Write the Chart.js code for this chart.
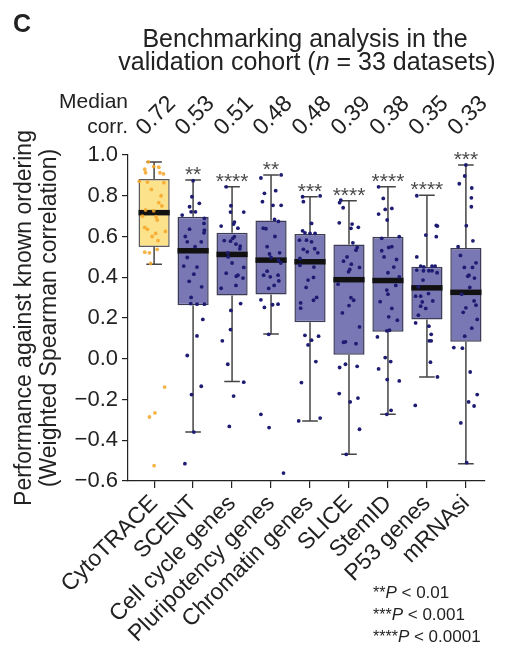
<!DOCTYPE html>
<html>
<head>
<meta charset="utf-8">
<title>Benchmarking analysis in the validation cohort</title>
<script src="https://cdn.jsdelivr.net/npm/chart.js@4.4.1/dist/chart.umd.min.js"></script>
<style>
  html, body { margin: 0; padding: 0; background: #fff; }
  canvas { display: block; }
</style>
</head>
<body>
<canvas id="chart" width="527" height="664"></canvas>
<script>
// ---------- data ----------
const categories = ['CytoTRACE', 'SCENT', 'Cell cycle genes', 'Pluripotency genes', 'Chromatin genes',
  'SLICE', 'StemID', 'P53 genes', 'mRNAsi'];
const medianCorr = ['0.72', '0.53', '0.51', '0.48', '0.48', '0.39', '0.38', '0.35', '0.33'];
const significance = ['', '**', '****', '**', '***', '****', '****', '****', '***'];

// box statistics
const whiskerLow  = [0.464, -0.360, -0.112, 0.122, -0.305, -0.469, -0.273, -0.089, -0.515];
const q1          = [0.549, 0.263, 0.310, 0.315, 0.179, 0.020, 0.132, 0.193, 0.083];
const median      = [0.717, 0.530, 0.512, 0.484, 0.476, 0.388, 0.384, 0.348, 0.326];
const q3          = [0.882, 0.697, 0.618, 0.679, 0.612, 0.561, 0.599, 0.451, 0.543];
const whiskerHigh = [0.966, 0.877, 0.844, 0.902, 0.795, 0.776, 0.844, 0.803, 0.951];

// datasets per method: [jitter, correlation]
const ptsCytoTRACE = [[-0.15,0.966],[-0.24,0.930],[-0.22,0.913],[-0.01,0.943],[0.12,0.940],[0.15,0.913],
  [0.24,0.907],[0.25,0.864],[-0.38,0.871],[-0.17,0.867],[-0.07,0.831],[0.12,0.766],[-0.22,0.730],
  [-0.01,0.726],[0.05,0.697],[0.08,0.681],[-0.24,0.645],[-0.17,0.635],[0.29,0.625],[0.04,0.615],
  [0.08,0.537],[-0.24,0.523],[-0.12,0.520],[-0.09,0.468],[0.27,-0.139],[0.02,-0.266],[-0.12,-0.286],
  [0.0,-0.525],[0.18,0.80],[-0.30,0.70],[0.10,0.58],[0.20,0.75],[-0.05,0.60]];
const ptsSCENT = [[0.0,0.874],[-0.03,0.795],[0.16,0.763],[-0.09,0.746],[-0.05,0.721],[0.06,0.721],
  [-0.28,0.705],[0.29,0.689],[0.28,0.664],[-0.09,0.636],[0.29,0.631],[0.28,0.618],[-0.15,0.574],
  [0.21,0.574],[-0.15,0.497],[-0.24,0.455],[0.02,0.415],[0.22,0.353],[-0.05,0.301],[-0.06,0.271],
  [0.29,0.268],[0.10,0.268],[0.25,0.193],[0.10,0.112],[-0.15,0.016],[0.21,-0.135],[-0.04,-0.176],
  [0.02,-0.360],[-0.21,-0.515],[-0.20,0.60],[0.10,0.45],[-0.10,0.38],[0.05,0.55]];
const ptsCellCycle = [[-0.15,0.844],[-0.03,0.751],[-0.04,0.720],[0.30,0.720],[0.06,0.671],[0.04,0.661],
  [-0.28,0.651],[0.15,0.641],[0.06,0.599],[0.02,0.591],[-0.04,0.577],[0.10,0.563],[0.21,0.553],
  [-0.11,0.520],[-0.10,0.500],[0.30,0.448],[0.15,0.410],[0.11,0.405],[0.28,0.396],[-0.28,0.346],
  [0.22,0.271],[-0.03,0.237],[-0.04,0.143],[-0.25,0.088],[-0.11,-0.027],[0.30,-0.115],[0.04,-0.183],
  [-0.07,-0.332],[-0.20,0.58],[0.0,0.47],[0.10,0.36],[-0.15,0.42],[0.20,0.54]];
const ptsPluripotency = [[0.26,0.902],[-0.26,0.887],[0.12,0.825],[-0.17,0.812],[-0.22,0.771],[0.05,0.753],
  [0.26,0.753],[0.09,0.684],[0.19,0.674],[-0.20,0.641],[-0.13,0.638],[-0.04,0.514],[0.0,0.497],
  [0.19,0.484],[-0.19,0.410],[0.18,0.410],[-0.02,0.402],[0.20,0.382],[-0.06,0.345],[-0.26,0.289],
  [0.18,0.268],[0.04,0.265],[-0.17,0.252],[-0.06,0.120],[-0.26,-0.273],[-0.05,-0.338],[0.32,-0.561],
  [0.10,0.60],[-0.10,0.55],[0.25,0.47],[-0.10,0.43],[0.08,0.36],[0.22,0.52]];
const ptsChromatin = [[-0.19,0.795],[0.26,0.799],[-0.17,0.771],[0.04,0.664],[-0.19,0.628],[-0.13,0.618],
  [0.0,0.615],[0.13,0.615],[-0.27,0.582],[-0.09,0.582],[0.04,0.574],[-0.17,0.537],[-0.07,0.525],
  [0.12,0.540],[-0.26,0.492],[-0.26,0.459],[0.09,0.399],[-0.05,0.386],[0.17,0.301],[0.09,0.287],
  [-0.24,0.274],[-0.24,0.248],[-0.13,0.115],[0.22,0.111],[0.04,0.091],[-0.05,0.068],[0.15,-0.014],
  [-0.22,-0.117],[-0.29,-0.305],[0.26,-0.291],[0.10,0.45],[-0.10,0.35],[0.20,0.52]];
const ptsSLICE = [[-0.21,0.779],[-0.24,0.766],[-0.15,0.741],[-0.25,0.667],[0.08,0.661],[0.05,0.640],
  [0.24,0.645],[0.10,0.569],[0.21,0.546],[0.18,0.533],[-0.14,0.479],[0.06,0.464],[0.27,0.448],
  [0.02,0.438],[-0.01,0.427],[-0.28,0.366],[0.12,0.287],[0.0,0.261],[-0.17,0.225],[0.27,0.156],
  [-0.14,0.081],[-0.09,0.083],[0.18,0.074],[-0.24,-0.043],[-0.09,-0.027],[0.21,-0.037],[-0.25,-0.171],
  [0.03,-0.212],[0.23,-0.193],[0.27,-0.346],[-0.07,-0.469],[0.05,0.30],[-0.05,0.50]];
const ptsStemID = [[-0.24,0.844],[-0.12,0.787],[-0.07,0.733],[0.10,0.738],[-0.24,0.710],[-0.02,0.681],
  [-0.16,0.591],[0.29,0.599],[0.02,0.546],[-0.16,0.530],[0.22,0.487],[0.0,0.422],[0.29,0.402],
  [-0.03,0.337],[0.0,0.317],[0.10,0.247],[0.02,0.206],[0.24,0.189],[-0.03,0.137],[0.04,0.140],
  [-0.27,0.107],[-0.07,0.006],[0.07,-0.014],[-0.24,-0.050],[-0.02,-0.102],[0.29,-0.109],[0.08,-0.253],
  [-0.03,-0.273],[-0.10,0.50],[0.15,0.45],[-0.20,0.28],[0.20,0.36],[0.10,0.55]];
const ptsP53 = [[-0.26,0.800],[0.24,0.654],[0.27,0.651],[0.24,0.599],[-0.03,0.607],[-0.26,0.500],
  [-0.16,0.455],[-0.08,0.451],[0.13,0.455],[0.21,0.455],[-0.26,0.435],[-0.09,0.432],[0.05,0.432],
  [0.13,0.432],[0.26,0.422],[-0.10,0.386],[-0.22,0.353],[0.04,0.320],[-0.29,0.307],[-0.16,0.307],
  [-0.12,0.279],[0.15,0.284],[-0.16,0.258],[-0.03,0.247],[-0.22,0.214],[-0.29,0.176],[0.05,0.160],
  [0.11,0.120],[0.06,0.088],[0.11,0.088],[0.09,-0.017],[0.27,-0.089],[-0.30,-0.229]];
const ptsMRNAsi = [[0.0,0.951],[-0.03,0.897],[-0.17,0.859],[0.15,0.838],[0.14,0.790],[0.14,0.746],
  [0.01,0.653],[0.18,0.579],[-0.14,0.507],[0.26,0.471],[-0.04,0.448],[0.17,0.448],[0.08,0.410],
  [0.05,0.405],[0.22,0.396],[-0.11,0.317],[0.21,0.284],[0.26,0.263],[-0.07,0.228],[0.29,0.193],
  [0.15,0.150],[-0.03,0.111],[-0.31,0.055],[-0.09,0.052],[0.11,-0.065],[0.29,-0.176],[0.07,-0.212],
  [0.21,-0.232],[-0.13,-0.315],[0.02,-0.510],[0.10,0.35],[-0.20,0.55],[0.0,0.25]];

const pointGroups = [ptsCytoTRACE, ptsSCENT, ptsCellCycle, ptsPluripotency, ptsChromatin,
  ptsSLICE, ptsStemID, ptsP53, ptsMRNAsi];

// ---------- style ----------
const FONT = "'Liberation Sans', Arial, Helvetica, sans-serif";
const INK = '#222';
const YELLOW = '#FDE28C';
const PURPLE = '#7A78B4';
const DOT_ORANGE = 'rgba(245, 166, 40, 0.85)';
const DOT_NAVY = '#1e1c72';

const scatterData = [];
const scatterColors = [];
pointGroups.forEach((group, i) => {
  group.forEach(([jit, v]) => {
    scatterData.push({ x: i + jit, y: v });
    scatterColors.push(i === 0 ? DOT_ORANGE : DOT_NAVY);
  });
});

function fmtTick(v) {
  const s = Math.abs(v) < 1e-9 ? '0.0' : v.toFixed(1);
  return s.replace('-', '\u2212');
}

// whiskers, medians and annotation text
const boxPlotPlugin = {
  id: 'boxPlot',
  beforeDatasetsDraw(chart) {
    const { ctx, scales: { x, y } } = chart;
    const bars = chart.getDatasetMeta(0).data;
    ctx.save();
    ctx.strokeStyle = '#444';
    ctx.lineWidth = 1.5;
    categories.forEach((_, i) => {
      const cx = x.getPixelForValue(i);
      const half = bars[i].width / 4;
      const yHi = y.getPixelForValue(whiskerHigh[i]);
      const yLo = y.getPixelForValue(whiskerLow[i]);
      ctx.beginPath();
      ctx.moveTo(cx, yHi); ctx.lineTo(cx, y.getPixelForValue(q3[i]));
      ctx.moveTo(cx, y.getPixelForValue(q1[i])); ctx.lineTo(cx, yLo);
      ctx.moveTo(cx - half, yHi); ctx.lineTo(cx + half, yHi);
      ctx.moveTo(cx - half, yLo); ctx.lineTo(cx + half, yLo);
      ctx.stroke();
    });
    ctx.restore();
  },
  afterDatasetDraw(chart, args) {
    if (args.index !== 0) return;
    const { ctx, scales: { x, y } } = chart;
    const bars = chart.getDatasetMeta(0).data;
    ctx.save();
    ctx.strokeStyle = '#111';
    ctx.lineWidth = 5.5;
    categories.forEach((_, i) => {
      const cx = x.getPixelForValue(i);
      const half = bars[i].width / 2;
      const ym = y.getPixelForValue(median[i]);
      ctx.beginPath();
      ctx.moveTo(cx - half, ym); ctx.lineTo(cx + half, ym);
      ctx.stroke();
    });
    ctx.restore();
  },
  afterDraw(chart) {
    const { ctx, scales: { x, y } } = chart;
    ctx.save();
    ctx.fillStyle = INK;

    // panel letter
    ctx.font = `bold 25px ${FONT}`;
    ctx.textAlign = 'left';
    ctx.textBaseline = 'alphabetic';
    ctx.fillText('C', 13, 32);

    // title
    ctx.font = `25px ${FONT}`;
    ctx.textAlign = 'center';
    ctx.fillText('Benchmarking analysis in the', 305, 47);
    const parts = [['validation cohort (', false], ['n', true], [' = 33 datasets)', false]];
    let total = 0;
    parts.forEach(([t, it]) => {
      ctx.font = `${it ? 'italic ' : ''}25px ${FONT}`;
      total += ctx.measureText(t).width;
    });
    let tx = 307 - total / 2;
    ctx.textAlign = 'left';
    parts.forEach(([t, it]) => {
      ctx.font = `${it ? 'italic ' : ''}25px ${FONT}`;
      ctx.fillText(t, tx, 70);
      tx += ctx.measureText(t).width;
    });

    // median correlation row
    ctx.font = `21px ${FONT}`;
    ctx.textAlign = 'right';
    ctx.fillText('Median', 128, 108);
    ctx.fillText('corr.', 128, 133);
    ctx.font = `23px ${FONT}`;
    ctx.textAlign = 'center';
    ctx.textBaseline = 'middle';
    medianCorr.forEach((m, i) => {
      ctx.save();
      ctx.translate(x.getPixelForValue(i) + 2, 116);
      ctx.rotate(-Math.PI / 4);
      ctx.fillText(m, 0, 0);
      ctx.restore();
    });

    // significance stars
    ctx.fillStyle = '#4a4a4a';
    ctx.font = `21px ${FONT}`;
    ctx.textBaseline = 'alphabetic';
    significance.forEach((s, i) => {
      if (!s) return;
      ctx.fillText(s, x.getPixelForValue(i), y.getPixelForValue(whiskerHigh[i]) + 1);
    });

    // p-value key
    ctx.fillStyle = INK;
    ctx.textAlign = 'left';
    const keys = [['**', '0.01'], ['***', '0.001'], ['****', '0.0001']];
    keys.forEach(([stars, p], k) => {
      let kx = 373;
      const ky = 598 + k * 22;
      ctx.font = `16px ${FONT}`;
      ctx.fillText(stars, kx, ky);
      kx += ctx.measureText(stars).width;
      ctx.font = `italic 17px ${FONT}`;
      ctx.fillText('P', kx, ky);
      kx += ctx.measureText('P').width;
      ctx.font = `17px ${FONT}`;
      ctx.fillText(' < ' + p, kx, ky);
    });
    ctx.restore();
  }
};

new Chart(document.getElementById('chart'), {
  type: 'bar',
  data: {
    datasets: [
      {
        type: 'bar',
        data: categories.map((_, i) => ({ x: i, y: [q1[i], q3[i]] })),
        backgroundColor: categories.map((_, i) => (i === 0 ? YELLOW : PURPLE)),
        borderColor: categories.map((_, i) => (i === 0 ? '#5a5a5a' : '#3d3c55')),
        borderWidth: 1.5,
        borderSkipped: false,
        barPercentage: 0.8,
        categoryPercentage: 1,
        order: 2,
      },
      {
        type: 'scatter',
        data: scatterData,
        pointRadius: 1.9,
        pointBorderWidth: 0,
        pointBackgroundColor: scatterColors,
        order: 1,
      },
    ],
  },
  options: {
    responsive: false,
    animation: false,
    layout: { padding: { top: 155, right: 42, bottom: 0, left: 0 } },
    plugins: { legend: { display: false }, tooltip: { enabled: false } },
    scales: {
      x: {
        type: 'linear',
        min: -0.67,
        max: 8.49,
        offset: false,
        afterBuildTicks: (s) => { s.ticks = categories.map((_, i) => ({ value: i })); },
        afterFit: (s) => { s.height = 183; },
        grid: { display: true, offset: false, drawOnChartArea: false, drawTicks: true, tickLength: 7, color: INK, lineWidth: 1.2 },
        border: { display: true, color: INK, width: 1.2 },
        ticks: {
          autoSkip: false,
          minRotation: 45,
          maxRotation: 45,
          padding: 2,
          color: INK,
          font: { family: FONT, size: 23 },
          callback: (v) => categories[v],
        },
      },
      y: {
        min: -0.6,
        max: 1.0,
        afterFit: (s) => { s.width = 128; },
        grid: { display: true, drawOnChartArea: false, drawTicks: true, tickLength: 6, color: INK, lineWidth: 1.2 },
        border: { display: true, color: INK, width: 1.2 },
        ticks: {
          stepSize: 0.2,
          padding: 4,
          color: INK,
          font: { family: FONT, size: 22 },
          callback: fmtTick,
        },
        title: {
          display: true,
          text: ['Performance against known ordering', '(Weighted Spearman correlation)'],
          color: INK,
          font: { family: FONT, size: 23, lineHeight: 1.1 },
          padding: { top: 12, bottom: 0 },
        },
      },
    },
  },
  plugins: [boxPlotPlugin],
});
</script>
</body>
</html>
